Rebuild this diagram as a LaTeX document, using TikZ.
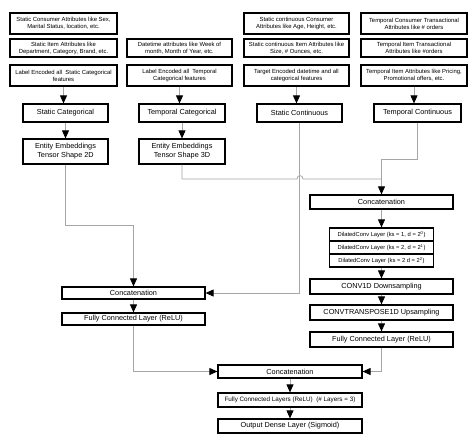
\documentclass[tikz,border=0pt]{standalone}
\usepackage{fontspec}
\setmainfont{Liberation Sans}
\usetikzlibrary{arrows.meta}
\begin{document}
\begin{tikzpicture}[x=1pt,y=-1pt,
  box/.style={draw=black, line width=1.2pt, inner sep=0pt, align=center, font=\fontsize{7.3}{9}\selectfont},
  sbox/.style={box, font=\fontsize{5.9}{7}\selectfont},
  dbox/.style={box, font=\fontsize{5.8}{6.5}\selectfont, minimum width=104, minimum height=13},
  conn/.style={draw=gray!70, line width=0.8pt},
  arr/.style={conn, -{Triangle[length=8pt,width=7pt,color=black]}},
]
\fill[white] (0,0) rectangle (474,442);
\useasboundingbox (0,0) rectangle (474,442);
% top column 1
\node[sbox, minimum width=107, minimum height=21] (a1) at (63.5,23.5) {Static Consumer Attributes like Sex,\\Marital Status, location, etc.};
\node[sbox, minimum width=107, minimum height=18] (a2) at (63.5,48) {Static Item Attributes like\\Department, Category, Brand, etc.};
\node[sbox, minimum width=107, minimum height=21] (a3) at (63.5,75.5) {Label Encoded all\ \ Static Categorical\\features};
% column 2
\node[sbox, minimum width=105, minimum height=18] (b2) at (179.5,48) {Datetime attributes like Week of\\month, Month of Year, etc.};
\node[sbox, minimum width=105, minimum height=21] (b3) at (179.5,75.5) {Label Encoded all\ \ Temporal\\Categorical features};
% column 3
\node[sbox, minimum width=105, minimum height=21] (c1) at (296.5,23.5) {Static continuous Consumer\\Attributes like Age, Height, etc.};
\node[sbox, minimum width=105, minimum height=18] (c2) at (296.5,48) {Static continuous Item Attributes like\\Size, \# Ounces, etc.};
\node[sbox, minimum width=105, minimum height=21] (c3) at (296.5,75.5) {Target Encoded datetime and all\\categorical features};
% column 4
\node[sbox, minimum width=106, minimum height=21] (d1) at (414,23.5) {Temporal Consumer Transactional\\Attributes like \# orders};
\node[sbox, minimum width=106, minimum height=18] (d2) at (414,48) {Temporal Item Transactional\\Attributes like \#orders};
\node[sbox, minimum width=106, minimum height=21] (d3) at (414,75.5) {Temporal Item Attributes like Pricing,\\Promotional offers, etc.};
% second row
\node[box, minimum width=85, minimum height=18] (SC) at (65.5,113) {Static Categorical};
\node[box, minimum width=86, minimum height=18] (TC) at (182,113) {Temporal Categorical};
\node[box, minimum width=85, minimum height=18] (SCo) at (299.5,113) {Static Continuous};
\node[box, minimum width=87, minimum height=18] (TCo) at (417.5,113) {Temporal Continuous};
\node[box, minimum width=85, minimum height=25] (E2) at (65.5,151.5) {Entity Embeddings\\Tensor Shape 2D};
\node[box, minimum width=86, minimum height=25] (E3) at (182,151.5) {Entity Embeddings\\Tensor Shape 3D};
% right branch
\node[box, minimum width=143, minimum height=14] (CR) at (381.5,202) {Concatenation};
\node[dbox] (D1) at (381.5,234.5) {DilatedConv Layer (ks = 1, d = 2\textsuperscript{0})};
\node[dbox] (D2) at (381.5,247.5) {DilatedConv Layer (ks = 2, d = 2\textsuperscript{1})};
\node[dbox] (D3) at (381.5,260.5) {DilatedConv Layer (ks = 2 d = 2\textsuperscript{2})};
\node[box, minimum width=143, minimum height=15] (CV) at (381.5,286.5) {CONV1D Downsampling};
\node[box, minimum width=143, minimum height=15] (CT) at (381.5,312.5) {CONVTRANSPOSE1D Upsampling};
\node[box, minimum width=143, minimum height=15] (FR) at (381.5,339.5) {Fully Connected Layer (ReLU)};
% left branch
\node[box, minimum width=143, minimum height=12] (CL) at (133.5,293) {Concatenation};
\node[box, minimum width=143, minimum height=12] (FL) at (133.5,319) {Fully Connected Layer (ReLU)};
% bottom
\node[box, minimum width=144, minimum height=13] (CB) at (290,371.5) {Concatenation};
\node[box, minimum width=144, minimum height=14, font=\fontsize{6.3}{7}\selectfont] (FB) at (290,400) {Fully Connected Layers (ReLU)\ \ (\# Layers = 3)};
\node[box, minimum width=144, minimum height=14] (OD) at (290,426) {Output Dense Layer (Sigmoid)};
% coordinates
\coordinate (k1) at (133.5,225);
\coordinate (h1) at (297,179);
\coordinate (h2) at (303,179);
\coordinate (j1) at (381.5,179);
\coordinate (j2) at (381.5,159);
% connectors
\draw[arr] (a3.south) -- (a3.south |- SC.north);
\draw[arr] (b3.south) -- (b3.south |- TC.north);
\draw[arr] (c3.south) -- (c3.south |- SCo.north);
\draw[arr] (d3.south) -- (d3.south |- TCo.north);
\draw[arr] (SC) -- (E2);
\draw[arr] (TC) -- (E3);
\draw[arr] (E2.south) |- (k1) -- (CL.north);
\draw[conn] (E3.south) |- (h1) .. controls (297,174.5) and (303,174.5) .. (h2) -- (j1);
\draw[arr] (TCo.south) |- (j2) -- (CR.north);
\draw[arr] (SCo.south) |- (CL.east);
\draw[arr] (CR) -- (D1);
\draw[arr] (D3) -- (CV);
\draw[arr] (CV) -- (CT);
\draw[arr] (CT) -- (FR);
\draw[arr] (CL) -- (FL);
\draw[arr] (FL.south) |- (CB.west);
\draw[arr] (FR.south) |- (CB.east);
\draw[arr] (CB) -- (FB);
\draw[arr] (FB) -- (OD);
\end{tikzpicture}
\end{document}
